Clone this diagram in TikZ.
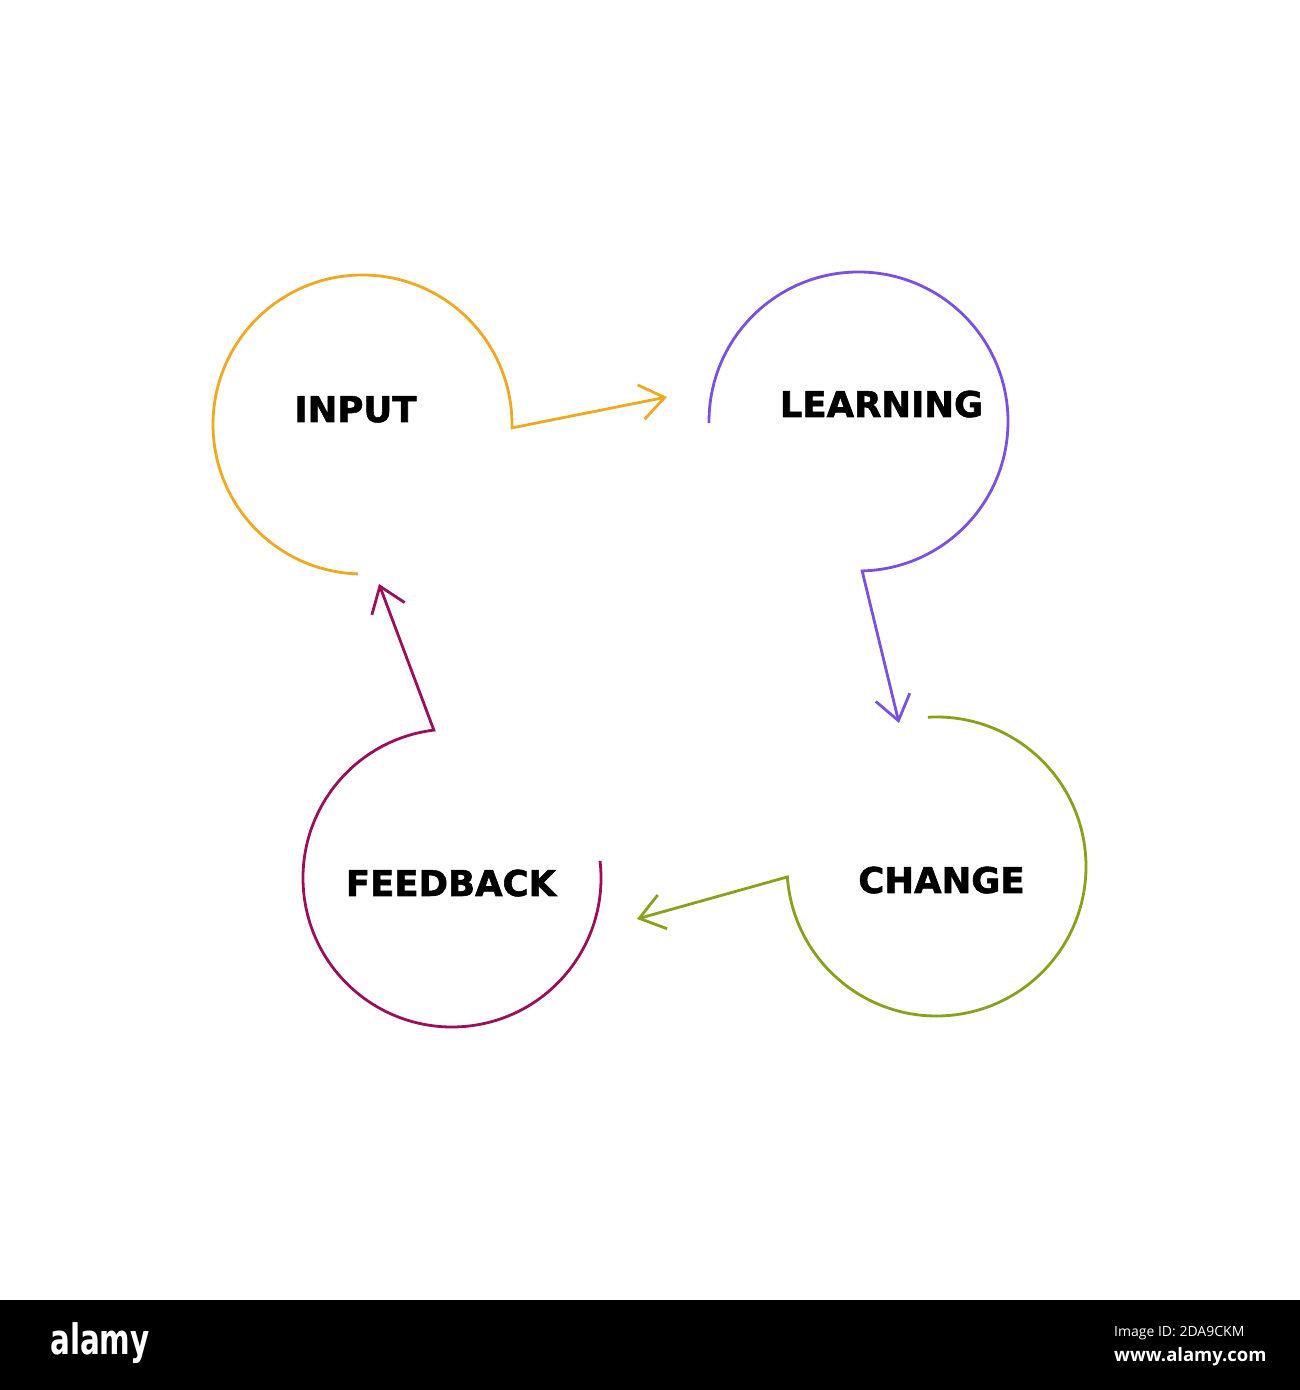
\documentclass[tikz,border=0pt]{standalone}
\usepackage{fontspec}
\newfontfamily\labelfont{DejaVu Sans}[BoldFeatures={FakeBold=1.6}]
\newfontfamily\logofont{DejaVu Sans}
\newfontfamily\wmfont{Open Sans}
\usetikzlibrary{arrows.meta,calc}
\definecolor{incol}{HTML}{F0A820}
\definecolor{learncol}{HTML}{7A50DE}
\definecolor{changecol}{HTML}{86A11A}
\definecolor{feedcol}{HTML}{9A0E5A}
\begin{document}
\begin{tikzpicture}[x=1pt,y=1pt,
  flow/.style={line width=2.8pt, line join=miter,
    -{Straight Barb[length=24pt,width=35pt,line width=2.8pt]}},
  lbl/.style={font=\labelfont\bfseries\fontsize{35.5}{36}\selectfont, text=black, inner sep=0pt, anchor=base}]
\useasboundingbox (0,0) rectangle (1300,1390);
\fill[white] (0,0) rectangle (1300,1390);
% watermark bar
\fill[black] (0,0) rectangle (1300,90);
\node[inner sep=0pt, anchor=base west, text=white] (alamyL) at (50,35)
  {\scalebox{0.7}[1]{\logofont\bfseries\fontsize{42}{42}\selectfont alamy}};
\node[inner sep=0pt, anchor=base west, text=white, font=\wmfont\fontsize{14}{14}\selectfont] (idL) at (1114,53) {Image ID: 2DA9CKM};
\node[inner sep=0pt, anchor=base west, text=white, font=\wmfont\bfseries\fontsize{18.5}{18.5}\selectfont] (wwwL) at (1114,28) {www.alamy.com};

% centres
\coordinate (inC) at (362.5,965.5);
\coordinate (leC) at (858.5,968.5);
\coordinate (chC) at (936.5,523.5);
\coordinate (feC) at (452,512);
% arc starts
\coordinate (inS) at ($(inC)+(268.3:149.5)$);
\coordinate (leS) at ($(leC)+(180.6:149.5)$);
\coordinate (chS) at ($(chC)+(93.3:149.5)$);
\coordinate (feS) at ($(feC)+(6.6:149)$);
% arrow tips
\coordinate (inT) at (667,993);
\coordinate (leT) at (899,667);
\coordinate (chT) at (637,471);
\coordinate (feT) at (379,806);

\draw[flow, incol] (inS) arc[start angle=268.3, end angle=-1.3, radius=149.5] -- (inT);
\draw[flow, learncol] (leS) arc[start angle=180.6, end angle=-88.6, radius=149.5] -- (leT);
\draw[flow, changecol] (chS) arc[start angle=93.3, end angle=-176, radius=149.5] -- (chT);
\draw[flow, feedcol] (feS) arc[start angle=6.6, end angle=-263, radius=149] -- (feT);

\node[lbl] (inputL) at (355.5,968) {INPUT};
\node[lbl] (learnL) at (881.5,973) {LEARNING};
\node[lbl] (changeL) at (941.5,497) {CHANGE};
\node[lbl] (feedL) at (451,494) {FEEDBACK};
\end{tikzpicture}
\end{document}
